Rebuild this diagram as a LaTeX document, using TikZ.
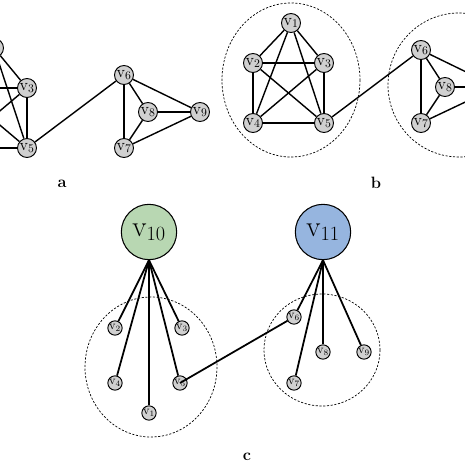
\documentclass[tikz,border=0pt]{standalone}
\usepackage{amsmath}
\definecolor{nodegray}{RGB}{208,208,208}
\definecolor{supgreen}{RGB}{184,215,178}
\definecolor{supblue}{RGB}{150,181,223}

\tikzset{
  vtx/.style={circle, draw, fill=nodegray, line width=0.8pt, minimum size=0.57cm, inner sep=0pt, font=\fontsize{14}{14}\selectfont},
  svtx/.style={vtx, minimum size=0.43cm, font=\fontsize{10.5}{10.5}\selectfont},
  bigvtx/.style={circle, draw, line width=0.9pt, minimum size=1.66cm, inner sep=0pt, font=\fontsize{25}{25}\selectfont},
  edge/.style={line width=1.2pt},
  thickedge/.style={line width=1.5pt},
  group/.style={dash pattern=on 1.8pt off 1.4pt, line width=0.6pt},
  panel/.style={font=\fontsize{14}{14}\selectfont\bfseries}
}

% graph of panels a and b, #1 = name prefix, #2/#3 = shift
\newcommand{\basegraph}[3]{%
  \begin{scope}[shift={(#2,#3)}]
    \foreach \i/\px/\py in {1/291/23, 2/253/63, 3/324/63, 4/253/123, 5/324/123,
                            6/421/50, 7/421/123, 8/445/87, 9/497/87}
      \node[vtx] (#1\i) at (\px,\py) {v$_{\i}$};
    \foreach \s/\t in {1/2, 1/3, 1/4, 1/5, 2/3, 2/4, 2/5, 3/4, 3/5, 4/5,
                       6/7, 6/8, 6/9, 7/8, 7/9, 8/9, 5/6}
      \draw[edge] (#1\s) -- (#1\t);
  \end{scope}}

\begin{document}
\begin{tikzpicture}[x=0.03cm, y=-0.03cm]
        % --- 1. Frame ---
        \useasboundingbox (0,0) rectangle (465,465);
        \clip (0,0) rectangle (465,465);

        % --- 2. Panel a ---
        \basegraph{a}{-297}{25}
        \node[panel] (la) at (62,184) {a};

        % --- 3. Panel b ---
        \basegraph{b}{0}{0}
        \draw[group] (291,80) ellipse (69 and 77);
        \draw[group] (459,85) ellipse (71 and 72);
        \node[panel] (lb) at (376,183) {b};

        % --- 4. Panel c ---
        \node[bigvtx, fill=supgreen] (v10) at (149,232) {v$_{10}$};
        \node[bigvtx, fill=supblue] (v11) at (323,232) {v$_{11}$};

        \foreach \i/\px/\py in {1/149/413, 2/115/328, 3/182/328, 4/115/383, 5/180/383,
                                6/294/317, 7/294/383, 8/323/352, 9/364/352}
          \node[svtx] (c\i) at (\px,\py) {v$_{\i}$};

        \draw[group] (151,367) ellipse (66 and 70);
        \draw[group] (322,350) ellipse (58 and 56);

        \foreach \t in {1,...,5}
          \draw[thickedge] (v10.south) -- (c\t);
        \foreach \t in {6,...,9}
          \draw[thickedge] (v11.south) -- (c\t);
        \draw[thickedge] (c5.center) -- (c6);

        \node[panel] (lc) at (247,457) {c};
    \end{tikzpicture}
\end{document}
